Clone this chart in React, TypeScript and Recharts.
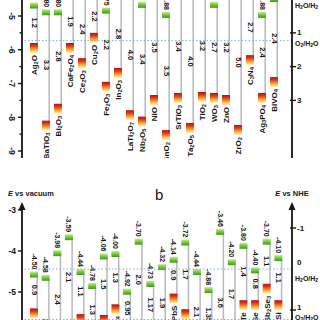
import React from "react";
import { ComposedChart, Bar, XAxis, YAxis, ReferenceLine } from "recharts";

// (a) oxides and friends: conduction band edge (eV vs vacuum) and band gap (eV)
const oxideNames = [
  "Ag2O", "BaTiO3", "Bi2O3", "CaFe2O4", "Ce2O3", "Cu2O", "Fe2O3", "In2O3",
  "LaTi2O7", "Nb2O5", "NiO", "SnO2", "SrTiO3", "Ta2O5", "TiO2", "WO3",
  "ZnO", "ZrO2", "C3N4", "Ag3PO4", "BiVO4",
];
const oxideCB = [
  -4.6, -4.8, -4.8, -3.9, -3.85, -3.3, -4.75, -3.74,
  -3.79, -4.58, -3.84, -4.88, -3.88, -4.17, -4.05, -4.58,
  -4.14, -3.23, -3.46, -4.88, -4.41,
];
const oxideGap = [
  1.2, 3.3, 2.8, 1.9, 2.4, 2.2, 2.2, 2.8,
  4.0, 3.4, 3.5, 3.5, 3.4, 4.0, 3.2, 2.7,
  3.2, 5.0, 2.7, 2.4, 2.4,
];

// (b) chalcogenides, InP and Si
const chalcoNames = [
  "Ag2S", "SnS2", "CdS", "In2S3", "CuInSe2", "Bi2S3", "CuInS2", "Cu2ZnSnS4",
  "Cu2SnS3", "AgInS2", "SnS", "Sb2S3", "PbS", "MoS2", "WS2", "InP",
  "ZnS", "CdSe", "CdTe", "PbSe", "Sb2Se3", "Si",
];
const chalcoCB = [
  -4.5, -4.58, -3.98, -3.59, -4.44, -4.78, -4.06, -4.0,
  -4.92, -3.7, -4.73, -4.32, -4.14, -3.72, -4.44, -4.88,
  -3.46, -4.2, -3.8, -4.4, -3.7, -4.1,
];
const chalcoGap = [
  0.9, 2.4, 2.4, 2.1, 1.1, 1.3, 1.5, 1.3,
  0.95, 2.0, 1.17, 1.9, 0.9, 1.7, 2.1, 1.35,
  3.6, 1.7, 1.4, 0.8, 1.1, 1.1,
];

const vacTicksA = [-9, -8.5, -8, -7.5, -7, -6.5, -6, -5.5, -5];
const nheTicksA = [1, 2, 3];
const vacTicksB = [-5, -4, -3];
const nheTicksB = [-1, 0, 1];

const redoxLevels = [
  { nhe: 0, label: "H2O/H2" },
  { nhe: 1.23, label: "O2/H2O" },
];

// vacuum -> NHE offsets used on each panel's right axis
const nheOffsetA = 4.5;
const nheOffsetB = 4.44;

const vacDomainA: [number, number] = [-9.207, -4.526];
const vacDomainB: [number, number] = [-5.683, -2.854];
const toNhe = (d: [number, number], off: number): [number, number] => [-d[1] - off, -d[0] - off];

const FONT = "'Liberation Sans', Arial, sans-serif";
const INK = "#161616";

const makeRows = (names: string[], cb: number[], gap: number[]) =>
  names.map((name, i) => ({ name, cb: cb[i], gap: gap[i], band: [cb[i] - gap[i], cb[i]] }));

const oxideRows = makeRows(oxideNames, oxideCB, oxideGap);
const chalcoRows = makeRows(chalcoNames, chalcoCB, chalcoGap);

const fmtGap = (v: number) =>
  Math.abs(v * 10 - Math.round(v * 10)) < 1e-6 ? v.toFixed(1) : v.toFixed(2);

// chemical formula with subscripted digits
function formula(s: string, size: number) {
  const parts = s.match(/[A-Za-z/]+|\d+/g) || [];
  let down = false;
  const shift = size * 0.28;
  return parts.map((p, i) => {
    const num = /\d/.test(p);
    const dy = num ? (down ? 0 : shift) : down ? -shift : 0;
    down = num;
    return (
      <tspan key={i} dy={dy} fontSize={num ? size * 0.72 : size}>
        {p}
      </tspan>
    );
  });
}

function BandShape(props: any) {
  const { x, y, width, height, payload, background } = props;
  const top = background ? background.y : 0;
  const cx = x + width / 2;
  const cbY = y;
  const vbY = y + height;
  const lineX = x + width - 0.8;
  const mid = (Math.max(cbY, top) + vbY) / 2;
  const nameY = vbY + 12;
  return (
    <g fontFamily={FONT} fontWeight="bold" fill={INK}>
      <line x1={lineX} x2={lineX} y1={cbY + 5} y2={vbY} stroke="#b9b9b9" strokeWidth={1.5} />
      <rect x={x} y={cbY} width={width} height={6} fill="url(#cbGrad)" />
      <rect x={x} y={vbY} width={width} height={10} fill="url(#vbGrad)" />
      <text
        transform={`rotate(90 ${cx} ${cbY - 2})`}
        x={cx}
        y={cbY - 2}
        textAnchor="end"
        dominantBaseline="central"
        fontSize={7}
      >
        {payload.cb.toFixed(2)}
      </text>
      <text
        transform={`rotate(90 ${cx} ${mid})`}
        x={cx}
        y={mid}
        textAnchor="middle"
        dominantBaseline="central"
        fontSize={7.5}
      >
        {fmtGap(payload.gap)}
      </text>
      <text
        transform={`rotate(-90 ${cx} ${nameY})`}
        x={cx}
        y={nameY}
        textAnchor="end"
        dominantBaseline="central"
        fontSize={8}
      >
        {formula(payload.name, 8)}
      </text>
    </g>
  );
}

function VacTickA(p: any) {
  const { x, y, payload } = p;
  const major = Number.isInteger(payload.value);
  return (
    <g>
      <line x1={x - (major ? 4 : 2.5)} x2={x} y1={y} y2={y} stroke={INK} strokeWidth={1.4} />
      {major && (
        <text
          transform={`rotate(90 ${x - 10} ${y})`}
          x={x - 10}
          y={y}
          textAnchor="middle"
          dominantBaseline="central"
          fontSize={8.5}
          fontWeight="bold"
          fontFamily={FONT}
          fill={INK}
        >
          {payload.value}
        </text>
      )}
    </g>
  );
}

function VacTickB(p: any) {
  const { x, y, payload } = p;
  return (
    <g>
      <line x1={x - 4} x2={x} y1={y} y2={y} stroke={INK} strokeWidth={1.4} />
      <text x={x - 6} y={y} textAnchor="end" dominantBaseline="central" fontSize={8.5} fontWeight="bold" fontFamily={FONT} fill={INK}>
        {payload.value}
      </text>
    </g>
  );
}

function NheTick(p: any) {
  const { x, y, payload } = p;
  const v = payload.value;
  const zero = v === 0;
  // labels nudged off the redox labels that sit right next to them
  const ty = zero ? y - 7 : p.lift ? y - p.lift : y;
  return (
    <g>
      {!zero && <line x1={x - 2} x2={x + 4} y1={y} y2={y} stroke={INK} strokeWidth={1.4} />}
      <text x={x + 5} y={ty} dominantBaseline="central" fontSize={8} fontWeight="bold" fontFamily={FONT} fill={INK}>
        {String(v)}
      </text>
    </g>
  );
}

function RedoxLabel(p: any) {
  const vb = p.viewBox || {};
  const x = (vb.x || 0) + (vb.width || 0) + 3;
  const y = (vb.y || 0) + p.dy;
  return (
    <text x={x} y={y} dominantBaseline="central" fontSize={7} fontWeight="bold" fontFamily={FONT} fill={INK}>
      {formula(p.text, 7)}
    </text>
  );
}

function ArrowLabel(p: any) {
  const vb = p.viewBox || {};
  const ax = p.side === "left" ? vb.x + vb.width : vb.x;
  const top = vb.y;
  const tx = p.side === "left" ? 8 : ax;
  return (
    <g fontFamily={FONT} fontWeight="bold" fill={INK}>
      <polygon points={`${ax},${top - 2} ${ax - 3.5},${top + 6} ${ax + 3.5},${top + 6}`} fill={INK} />
      <text x={tx} y={top - 11} textAnchor={p.side === "left" ? "start" : "middle"} dominantBaseline="central" fontSize={7.5}>
        <tspan fontStyle="italic">E</tspan>
        {p.text}
      </text>
    </g>
  );
}

const axisLine = { stroke: INK, strokeWidth: 1.8 };
const dotted = { stroke: "#7aaee0", strokeDasharray: "1.5 2", strokeWidth: 1 };

export default function App() {
  return (
    <div
      style={{
        position: "fixed",
        left: 0,
        top: 0,
        width: 320,
        height: 320,
        background: "#fff",
        overflow: "hidden",
        fontFamily: FONT,
      }}
    >
      <svg width={0} height={0} style={{ position: "absolute" }}>
        <defs>
          <linearGradient id="cbGrad" x1="0" y1="0" x2="0" y2="1">
            <stop offset="0" stopColor="#c8ee90" />
            <stop offset="0.45" stopColor="#7acb3a" />
            <stop offset="1" stopColor="#3d981d" />
          </linearGradient>
          <linearGradient id="vbGrad" x1="0" y1="0" x2="0" y2="1">
            <stop offset="0" stopColor="#b3101a" />
            <stop offset="0.3" stopColor="#df3b1a" />
            <stop offset="0.65" stopColor="#f5aa2c" />
            <stop offset="1" stopColor="#fff5c4" />
          </linearGradient>
        </defs>
      </svg>

      <div style={{ position: "absolute", left: 0, top: 0 }}>
        <ComposedChart width={320} height={158} data={oxideRows} margin={{ top: 0, right: 0, bottom: 0, left: 0 }}>
          <XAxis dataKey="name" hide padding={{ left: 6, right: 12 }} />
          <YAxis
            yAxisId="vac"
            width={22}
            domain={vacDomainA}
            allowDataOverflow
            ticks={vacTicksA}
            interval={0}
            tickSize={0}
            tickMargin={0}
            axisLine={axisLine}
            tick={(p: any) => <VacTickA {...p} />}
          />
          <YAxis
            yAxisId="nhe"
            orientation="right"
            width={28}
            domain={toNhe(vacDomainA, nheOffsetA)}
            reversed
            allowDataOverflow
            ticks={nheTicksA}
            interval={0}
            tickSize={0}
            tickMargin={0}
            axisLine={axisLine}
            tick={(p: any) => <NheTick {...p} />}
          />
          {redoxLevels.map((r, i) => (
            <ReferenceLine
              key={r.label}
              yAxisId="nhe"
              y={r.nhe}
              {...dotted}
              ifOverflow="visible"
              label={(p: any) => <RedoxLabel {...p} text={r.label} dy={i === 0 ? 6 : 2} />}
            />
          ))}
          <Bar yAxisId="vac" dataKey="band" barSize={8} shape={BandShape} isAnimationActive={false} />
        </ComposedChart>
      </div>

      <div style={{ position: "absolute", left: 155, top: 186, fontSize: 15, color: INK }}>b</div>

      <div style={{ position: "absolute", left: 0, top: 185 }}>
        <ComposedChart width={320} height={135} data={chalcoRows} margin={{ top: 19, right: 0, bottom: 0, left: 0 }}>
          <XAxis dataKey="name" hide padding={{ left: 6, right: 8 }} />
          <YAxis
            yAxisId="vac"
            width={22}
            domain={vacDomainB}
            allowDataOverflow
            ticks={vacTicksB}
            interval={0}
            tickSize={0}
            tickMargin={0}
            axisLine={axisLine}
            tick={(p: any) => <VacTickB {...p} />}
            label={(p: any) => <ArrowLabel {...p} side="left" text=" vs vacuum" />}
          />
          <YAxis
            yAxisId="nhe"
            orientation="right"
            width={28}
            domain={toNhe(vacDomainB, nheOffsetB)}
            reversed
            allowDataOverflow
            ticks={nheTicksB}
            interval={0}
            tickSize={0}
            tickMargin={0}
            axisLine={axisLine}
            tick={(p: any) => <NheTick {...p} lift={p.payload && p.payload.value === 1 ? 3 : 0} />}
            label={(p: any) => <ArrowLabel {...p} side="right" text=" vs NHE" />}
          />
          {redoxLevels.map((r, i) => (
            <ReferenceLine
              key={r.label}
              yAxisId="nhe"
              y={r.nhe}
              {...dotted}
              ifOverflow="visible"
              label={(p: any) => <RedoxLabel {...p} text={r.label} dy={i === 0 ? 9 : -2.5} />}
            />
          ))}
          <Bar yAxisId="vac" dataKey="band" barSize={8} shape={BandShape} isAnimationActive={false} />
        </ComposedChart>
      </div>
    </div>
  );
}
